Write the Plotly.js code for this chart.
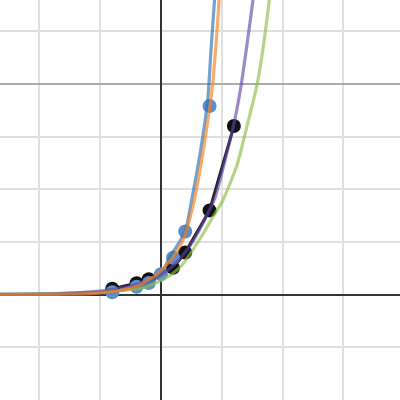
<!DOCTYPE html>
<html>
<head>
<meta charset="utf-8">
<script src="https://cdn.plot.ly/plotly-3.0.1.min.js"></script>
<style>
  html, body { margin: 0; padding: 0; background: #fff; }
  #graph { width: 400px; height: 400px; }
</style>
</head>
<body>
<div id="graph"></div>
<script>
// points (grid step = 5)
let blueX = [-4, -2, -1, 0, 1, 2, 4];
let blueY = [0.23, 0.75, 1.1, 1.95, 3.5, 6.0, 17.9];

let blackX = [-4, -2, -1, 1, 2, 4, 6];
let blackY = [0.57, 1.08, 1.46, 2.55, 4.0, 8.0, 16.0];

// curves, sampled along the drawn lines
let blueCurveX = [-13.23, -8.3, -4.02, -2.04, -0.98, 0.09, 0.75, 1.98, 2.53, 3.27, 3.85, 4.12, 4.41, 4.5];
let blueCurveY = [0.04, 0.07, 0.26, 0.73, 1.11, 2.15, 3.6, 5.95, 8.99, 13.73, 18.47, 23.2, 27.96, 29.5];

let orangeX = [-13.23, -8.3, -5.83, -3.09, -1.72, -0.9, -0.35, 0.2, 0.75, 1.57, 1.98, 2.75, 3.49, 4.10, 4.29, 4.59, 4.78, 4.85];
let orangeY = [0.02, 0.04, 0.1, 0.45, 0.92, 1.5, 1.9, 2.5, 3.2, 4.6, 5.7, 8.99, 13.73, 18.47, 20.36, 24.64, 27.96, 29.5];

let purpleX = [-13.23, -8.3, -4.02, -2.05, -0.98, 0, 1.0, 1.98, 2.66, 3.98, 4.45, 5.44, 6.04, 6.6, 7.13, 7.57, 7.7];
let purpleY = [0.03, 0.11, 0.49, 0.97, 1.35, 1.9, 2.75, 4.0, 5.1, 8.0, 9.2, 13.5, 16.4, 19.9, 24.17, 27.96, 29.5];

let greenX = [-13.23, -9.12, -5.01, -1.72, -0.07, 0.91, 1.74, 2.56, 3.46, 4.28, 5.11, 6.26, 7.0, 7.9, 8.44, 8.91, 9.05];
let greenY = [0.04, 0.10, 0.28, 0.59, 1.30, 1.96, 2.82, 4.15, 5.76, 7.37, 8.99, 12.31, 15.63, 19.9, 23.69, 27.96, 29.4];

function curve(x, y, color) {
    return {
        type: 'scatter', mode: 'lines', x: x, y: y,
        line: { color: color, width: 3.2, shape: 'spline', smoothing: 0.6 },
        hoverinfo: 'skip'
    };
}

let data = [
    {
        type: 'scatter', mode: 'lines+markers', x: blackX, y: blackY,
        line: { color: '#222', width: 3 },
        marker: { color: '#111', size: 14 },
        hoverinfo: 'skip'
    },
    {
        type: 'scatter', mode: 'markers', x: blueX, y: blueY,
        marker: { color: '#5b8fcc', size: 14 },
        hoverinfo: 'skip'
    },
    curve(blueCurveX, blueCurveY, 'rgba(45,112,179,0.66)'),
    curve(greenX, greenY, 'rgba(140,190,70,0.65)'),
    curve(purpleX, purpleY, 'rgba(96,66,166,0.62)'),
    curve(orangeX, orangeY, 'rgba(250,126,25,0.66)')
];

let axisBase = {
    dtick: 20, tick0: 0,
    showgrid: true, gridcolor: '#ababab', gridwidth: 2,
    minor: { dtick: 5, showgrid: true, gridcolor: '#e0e0e0', gridwidth: 2 },
    zeroline: true, zerolinecolor: '#333', zerolinewidth: 2,
    showticklabels: false, ticks: '', showline: false, fixedrange: true
};

let layout = {
    width: 400, height: 400,
    margin: { l: 0, r: 0, t: 0, b: 0, pad: 0 },
    paper_bgcolor: '#fff', plot_bgcolor: '#fff',
    showlegend: false, hovermode: false,
    xaxis: Object.assign({}, axisBase, { range: [-13.23, 19.66] }),
    yaxis: Object.assign({}, axisBase, { range: [-9.99, 27.96] })
};

Plotly.newPlot('graph', data, layout, { displayModeBar: false, staticPlot: true });
</script>
</body>
</html>
